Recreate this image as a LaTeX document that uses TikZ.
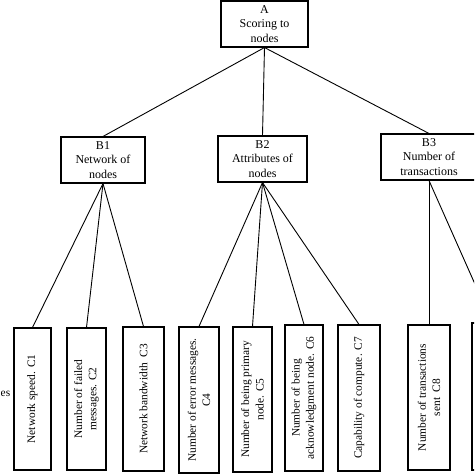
\documentclass[tikz,border=0pt]{standalone}
\usepackage{fontspec}
\setmainfont{Liberation Serif}
\newcommand{\px}{0.8333pt}
\begin{document}
\begin{tikzpicture}[x=0.8333pt, y=-0.8333pt,
  bbox/.style={draw, line width=0.9pt, inner sep=0pt, align=center,
    font=\fontsize{10}{12}\selectfont},
  cbox/.style={draw, line width=0.9pt, inner sep=0pt, align=center, rotate=90,
    minimum height=40*\px, minimum width=145*\px,
    font=\fontsize{9.5}{12}\selectfont},
  link/.style={line width=0.75pt}]
  \useasboundingbox (0,0) rectangle (474,474);
  \clip (0,0) rectangle (474,474);

  \node[bbox, minimum width=87*\px, minimum height=46*\px] (A) at (264.5,24) {A\\Scoring to\\nodes};

  \node[bbox, minimum width=84*\px, minimum height=46*\px] (B1) at (103,160) {B1\\Network of\\nodes};
  \node[bbox, minimum width=89*\px, minimum height=46*\px] (B2) at (262.5,159) {B2\\Attributes of\\nodes};
  \node[bbox, minimum width=96*\px, minimum height=46*\px] (B3) at (429,157) {B3\\Number of\\transactions};

  \node[cbox, minimum width=142*\px, minimum height=37*\px] (C1) at (32.5,399) {Network speed. C1};
  \node[cbox, minimum width=142*\px, minimum height=39*\px] (C2) at (86.5,399) {Number of failed\\messages. C2};
  \node[cbox, minimum width=144*\px, minimum height=41*\px] (C3) at (143.5,399) {Network bandwidth\ \ C3};
  \node[cbox, minimum width=146*\px] (C4) at (199,400) {Number of error messages.\\C4};
  \node[cbox, minimum height=39*\px] (C5) at (252.5,399.5) {Number of being primary\\node. C5};
  \node[cbox, minimum width=146*\px, minimum height=38*\px] (C6) at (304,398) {Number of being\\acknowledgment node. C6};
  \node[cbox, minimum width=146*\px, minimum height=42*\px] (C7) at (359,398) {Capability of compute. C7};
  \node[cbox, minimum height=42*\px] (C8) at (429,397.5) {Number of transactions\\sent\ \ C8};
  \node[cbox, minimum width=147*\px] (C9) at (492,396.5) {};

  \node[anchor=west, inner sep=0pt, font=\fontsize{9.5}{12}\selectfont] (es) at (0.5,394) {es};

  \draw[link] (A.south) -- (B1.north);
  \draw[link] (A.south) -- (B2.north);
  \draw[link] (A.south) -- (B3.north);

  \draw[link] (B1.south) -- (C1.east);
  \draw[link] (B1.south) -- (C2.east);
  \draw[link] (B1.south) -- (C3.east);

  \draw[link] (B2.south) -- (C4.east);
  \draw[link] (B2.south) -- (C5.east);
  \draw[link] (B2.south) -- (C6.east);
  \draw[link] (B2.south) -- (C7.east);

  \draw[link] (B3.south) -- (C8.east);
  \draw[link] (B3.south) -- (C9.east);
\end{tikzpicture}
\end{document}
